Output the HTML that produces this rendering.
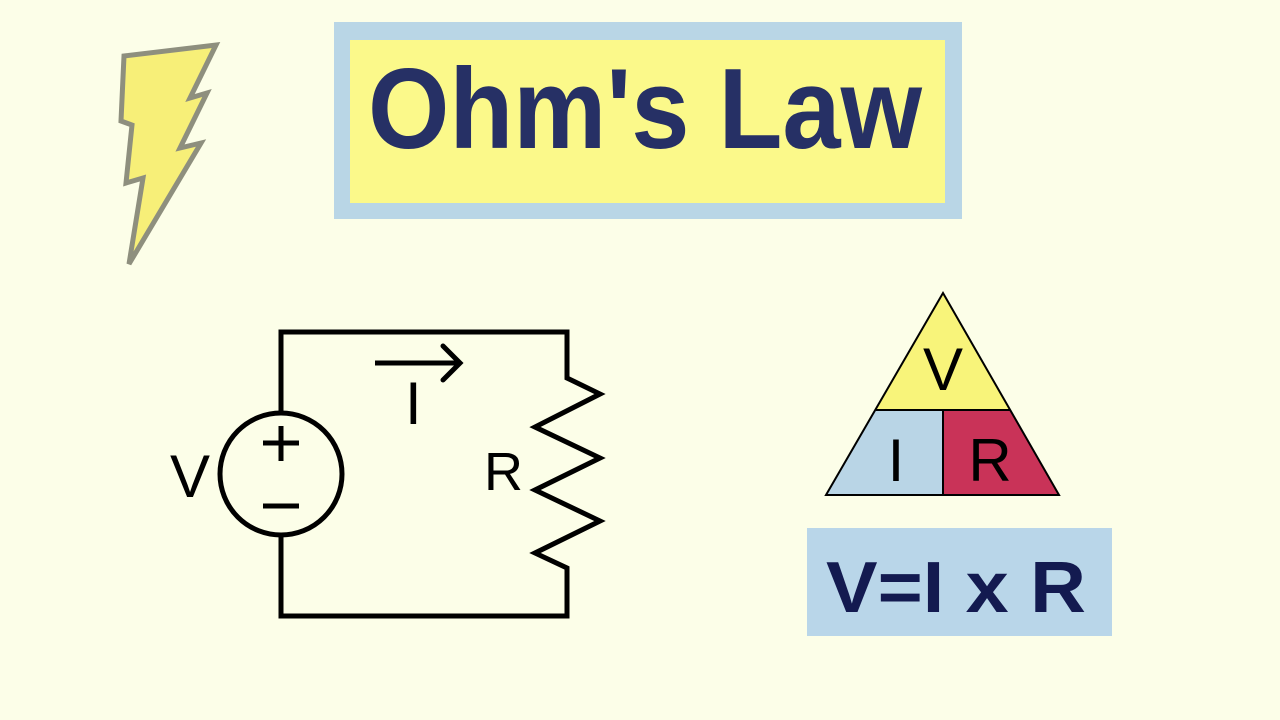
<!DOCTYPE html>
<html><head><meta charset="utf-8"><style>
html,body{margin:0;padding:0;background:#fcfee8;}
svg{display:block}
</style></head><body>
<svg width="1280" height="720" viewBox="0 0 1280 720" xmlns="http://www.w3.org/2000/svg">
<rect width="1280" height="720" fill="#fcfee8"/>
<!-- lightning -->
<polygon points="124,56 216,45 190,98 207,93 180,148 201,143 129,264 143,178 126,183 132,125 121,121" fill="#f7ef78" stroke="#8e8f7e" stroke-width="5" stroke-linejoin="miter"/>
<!-- title -->
<rect x="334" y="22" width="628" height="197" fill="#b9d6e6"/>
<rect x="350" y="40" width="595" height="163" fill="#fbf98a"/>
<text x="368" y="148" font-family="Liberation Sans, sans-serif" font-weight="bold" font-size="114" fill="#263065" textLength="554" lengthAdjust="spacingAndGlyphs">Ohm's Law</text>
<!-- circuit -->
<g fill="none" stroke="#000" stroke-width="5" stroke-linejoin="miter">
<polyline points="281,413 281,332 567,332 567,378 600,394 535,427 600,458 535,490 600,521 535,553 567,568 567,616 281,616 281,535"/>
<circle cx="281" cy="474" r="61"/>
<line x1="263" y1="443" x2="299" y2="443"/>
<line x1="281" y1="426" x2="281" y2="461"/>
<line x1="263" y1="506" x2="299" y2="506"/>
<line x1="375" y1="363" x2="460" y2="363"/>
<polyline points="443,346 460,363 443,380" stroke-linecap="round"/>
</g>
<g font-family="Liberation Sans, sans-serif" fill="#000">
<text x="405" y="424" font-size="60">I</text>
<text x="170" y="497" font-size="60">V</text>
<text x="484" y="490" font-size="54">R</text>
</g>
<!-- triangle -->
<polygon points="943,293 1010,410 876,410" fill="#f8f47a"/>
<polygon points="876,410 943,410 943,495 826,495" fill="#b9d5e6"/>
<polygon points="943,410 1010,410 1059,495 943,495" fill="#c93358"/>
<g fill="none" stroke="#000" stroke-width="2">
<polygon points="943,293 1059,495 826,495"/>
<line x1="876" y1="410" x2="1010" y2="410"/>
<line x1="943" y1="410" x2="943" y2="495"/>
</g>
<g font-family="Liberation Sans, sans-serif" fill="#000">
<text x="943" y="390" font-size="60" text-anchor="middle">V</text>
<text x="896" y="481" font-size="60" text-anchor="middle">I</text>
<text x="990" y="481" font-size="60" text-anchor="middle">R</text>
</g>
<rect x="807" y="528" width="305" height="108" fill="#b9d6e9"/>
<text x="826" y="612" font-family="Liberation Sans, sans-serif" font-weight="bold" font-size="72" fill="#131a50" textLength="260" lengthAdjust="spacingAndGlyphs">V=I x R</text>
</svg>
</body></html>
